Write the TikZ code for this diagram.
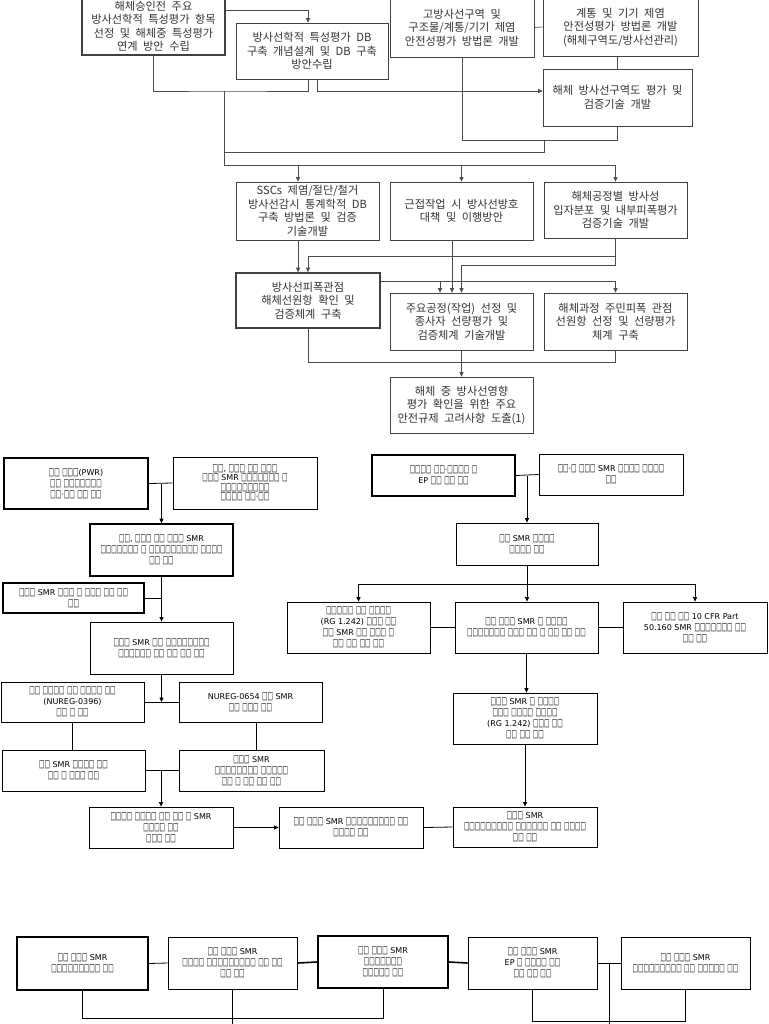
\documentclass[tikz,border=0pt]{standalone}
\usepackage{fontspec}
\usepackage{graphicx}
\newfontfamily\korfont[WordSpace=2.2]{Noto Sans CJK KR}
\newfontfamily\boxfont{DejaVu Sans}
\usetikzlibrary{arrows.meta}
\catcode`□=\active
\protected\def□{\scalebox{0.72}[1.3]{\char"25A1}}

\begin{document}
\begin{tikzpicture}[
			x=1pt, y=-1pt,
			ubox/.style={draw=black!75, line width=0.7pt, align=center, inner sep=0pt, text=black!80,
				font=\korfont\fontsize{11.2}{13.5}\selectfont},
			lbox/.style={draw=black, line width=0.8pt, align=center, inner sep=0pt,
				font=\boxfont\fontsize{8}{11}\selectfont},
			heavy/.style={line width=1.6pt},
			sz/.style 2 args={minimum width=#1pt, minimum height=#2pt},
			uline/.style={draw=black!70, line width=0.7pt},
			lline/.style={draw=black, line width=0.8pt},
			arr/.style={-{Triangle[length=4.5pt,width=4pt]}}
			]
			\fill[white] (0,0) rectangle (768,1024);
			\useasboundingbox (0,0) rectangle (768,1024);
			
			% Upper chart
			\node[ubox, heavy, sz={143}{57}] (a1) at (153.5,26.5) {해체승인전 주요\\방사선학적 특성평가 항목\\선정 및 해체중 특성평가\\연계 방안 수립};
			\node[ubox, sz={152}{56}] (a2) at (312,51) {방사선학적 특성평가 DB\\구축 개념설계 및 DB 구축\\방안수립};
			\node[ubox, sz={144}{59}] (b1) at (462,27.5) {고방사선구역 및\\구조물/계통/기기 제염\\안전성평가 방법론 개발};
			\node[ubox, sz={155}{58}] (b2) at (620.5,27) {계통 및 기기 제염\\안전성평가 방법론 개발\\(해체구역도/방사선관리)};
			\node[ubox, sz={149}{57}] (b3) at (617.5,97.5) {해체 방사선구역도 평가 및\\검증기술 개발};
			\node[ubox, sz={143}{58}] (c1) at (307.5,211) {SSCs 제염/절단/철거\\방사선감시 통계학적 DB\\구축 방법론 및 검증\\기술개발};
			\node[ubox, sz={143}{58}] (c2) at (461.5,211) {근접작업 시 방사선방호\\대책 및 이행방안};
			\node[ubox, sz={143}{56}] (c3) at (615.5,210) {해체공정별 방사성\\입자분포 및 내부피폭평가\\검증기술 개발};
			\node[ubox, heavy, sz={144}{55}] (d1) at (308,300.5) {방사선피폭관점\\해체선원항 확인 및\\검증체계 구축};
			\node[ubox, sz={143}{57}] (d2) at (461.5,321.5) {주요공정(작업) 선정 및\\종사자 선량평가 및\\검증체계 기술개발};
			\node[ubox, sz={143}{57}] (d3) at (615.5,321.5) {해체과정 주민피폭 관점\\선원항 선정 및 선량평가\\체계 구축};
			\node[ubox, sz={143}{56}] (d4) at (461.5,405) {해체 중 방사선영향\\평가 확인을 위한 주요\\안전규제 고려사항 도출(1)};
			
			% Upper connectors
			\coordinate (k1) at (308,10);
			\coordinate (k2) at (224,91);
			\coordinate (k3) at (224,152);
			\coordinate (k4) at (544,140);
			\coordinate (k5) at (224,165);
			\coordinate (k8) at ([yshift=19.5pt]d1.east);
			\coordinate (c1n) at ([xshift=-9.5pt]c1.north);
			\coordinate (c1s) at ([xshift=-9.5pt]c1.south);
			\coordinate (c2s) at ([xshift=-9.5pt]c2.south);
			\coordinate (d2n) at ([xshift=-21.5pt]d2.north);
			\draw[uline, arr] (a1.east |- k1) -- (k1) -- (k1 |- a2.north);
			\draw[uline] (a1.south) |- (k2) -| ([xshift=-4pt]a2.south);
			\draw[uline, arr] ([xshift=5pt]a2.south) |- (b3.west |- k2);
			\draw[uline] (b1.east) -- (b2.west);
			\draw[uline] (b3.north |- b2.south) -- (b3.north);
			\draw[uline] (b1.south) |- (k4 -| b3.south) -- (b3.south);
			\draw[uline] (k4) |- (k3);
			\draw[uline, arr] (k2) -- (k5) -| (c3.north);
			\draw[uline, arr] (k5 -| c2.north) -- (c2.north);
			\draw[uline, arr] (c1n |- k5) -- (c1n);
			\draw[uline, arr] (c1s) -- (c1s |- d1.north);
			\draw[uline, arr] (c3.south) -- ++(0,18) -| (d1.north);
			\draw[uline, arr] (c3.south) -- ++(0,27) -| (d2.north);
			\draw[uline, arr] (c2s) -- (c2s |- d2.north);
			\draw[uline, arr] (k8) -| (d3.north);
			\draw[uline, arr] (d2n |- k8) -- (d2n);
			\draw[uline] (d1.south) -- ++(0,34) -| (d3.south);
			\draw[uline, arr] (d2.south) -- (d4.north);
			
			% Lower left chart
			\node[lbox, heavy, sz={144}{51}] (e1) at (76,483.5) {□□ □□□(PWR)\\□□ □□□□□□□\\□□·□□ □□ □□};
			\node[lbox, sz={144}{52}, font=\boxfont\fontsize{8}{9.5}\selectfont] (e2) at (245,483) {□□, □□□ □□ □□□\\□□□ SMR □□□□□□□ □\\□□□□□□□□□\\□□□□ □□·□□};
			\node[lbox, heavy, sz={143}{52}] (e3) at (161.5,550) {□□, □□□ □□ □□□ SMR\\□□□□□□□ □ □□□□□□□□□ □□□□\\□□ □□};
			\node[lbox, heavy, sz={141}{30}] (e4) at (73.5,598) {□□□ SMR □□□ □ □□□ □□ □□\\□□};
			\node[lbox, sz={143}{52}] (e5) at (161.5,648) {□□□ SMR □□ □□□□□□□□\\□□□□□□ □□ □□ □□ □□};
			\node[lbox, sz={143}{40}] (e6) at (72.5,702) {□□ □□□□ □□ □□□□ □□\\(NUREG-0396)\\□□ □ □□};
			\node[lbox, sz={143}{40}] (e7) at (250.5,702) {NUREG-0654 □□ SMR\\□□ □□□ □□};
			\node[lbox, sz={143}{41}] (e8) at (73.5,770.5) {□□ SMR □□□□ □□\\□□ □ □□□ □□};
			\node[lbox, sz={145}{41}] (e9) at (251.5,770.5) {□□□ SMR\\□□□□□□□□ □□□□□\\□□ □ □□ □□ □□};
			\node[lbox, sz={144}{41}] (e10) at (161,827.5) {□□□□ □□□□ □□ □□ □ SMR\\□□□□ □□\\□□□ □□};
			\node[lbox, sz={144}{41}] (e11) at (351,827.5) {□□ □□□ SMR □□□□□□□□□ □□\\□□□□ □□};
			\node[lbox, sz={144}{40}] (e12) at (525,827) {□□□ SMR\\□□□□□□□□□ □□□□□□ □□ □□□□\\□□ □□};
			\node[lbox, sz={144}{51}] (e13) at (525,718.5) {□□□ SMR □ □□□□\\□□□ □□□□ □□□□\\(RG 1.242) □□□ □□\\□□ □□ □□};
			
			% Lower right chart
			\node[lbox, heavy, sz={143}{41}] (r1) at (443.5,475.5) {□□□□ □□·□□□□ □\\EP □□ □□ □□};
			\node[lbox, sz={144}{41}] (r2) at (611,474.5) {□□·□ □□□ SMR □□□□ □□□□\\□□};
			\node[lbox, sz={142}{42}] (r3) at (527,544) {□□ SMR □□□□\\□□□□ □□};
			\node[lbox, sz={143}{51}] (r4) at (358.5,627.5) {□□□□□ □□ □□□□\\(RG 1.242) □□□ □□\\□□ SMR □□ □□□ □\\□□ □□ □□ □□};
			\node[lbox, sz={143}{51}] (r5) at (526.5,627.5) {□□ □□□ SMR □ □□□□\\□□□□□□□ □□□ □□ □ □□ □□ □□};
			\node[lbox, sz={144}{51}] (r6) at (695,627.5) {□□ □□ □□ 10 CFR Part\\50.160 SMR □□□□□□□ □□\\□□ □□};
			
			% Lower connectors
			\draw[lline] (e1.east) -- (e2.west);
			\draw[lline, arr] (e1.east -| e3.north) -- (e3.north);
			\draw[lline, arr] (e3.south) -- (e5.north);
			\draw[lline] (e4.east) -- (e4.east -| e3.south);
			\draw[lline] (e6.east) -- (e7.west);
			\draw[lline, arr] (e5.south) -- (e5.south |- e6.east);
			\draw[lline] (e6.south) -- (e6.south |- e8.north);
			\coordinate (e7s) at ([xshift=5.5pt]e7.south);
			\draw[lline] (e7s) -- (e7s |- e9.north);
			\draw[lline] (e8.east) -- (e9.west);
			\draw[lline, arr] (e8.east -| e10.north) -- (e10.north);
			\draw[lline, arr] (e10.east) -- (e11.west);
			\draw[lline] (e11.east) -- (e12.west);
			\draw[lline, arr] (e13.south) -- (e12.north);
			\draw[lline] (r1.east) -- (r2.west);
			\draw[lline, arr] (r1.east -| r3.north) -- (r3.north);
			\draw[lline] (r3.south) -- ++(0,19) coordinate (n1);
			\draw[lline, arr] (n1) -| (r4.north);
			\draw[lline, arr] (n1) -| (r6.north);
			\draw[lline, arr] (n1) -- (n1 |- r5.north);
			\draw[lline] (r4.east) -- (r5.west);
			\draw[lline] (r5.east) -- (r6.west);
			\draw[lline, arr] (r5.south) -- (r5.south |- e13.north);
			
			% Bottom row
			\node[lbox, heavy, sz={131}{53}] (f1) at (82.5,963.5) {□□ □□□ SMR\\□□□□□□□□□ □□};
			\node[lbox, sz={129}{52}] (f2) at (232.5,963) {□□ □□□ SMR\\□□□□ □□□□□□□□□ □□ □□\\□□ □□};
			\node[lbox, heavy, sz={130}{52}] (f3) at (383,962) {□□ □□□ SMR\\□□□□□□□\\□□□□□ □□};
			\node[lbox, sz={129}{52}] (f4) at (532.5,963) {□□ □□□ SMR\\EP □ □□□□ □□\\□□ □□ □□};
			\node[lbox, sz={129}{52}] (f5) at (685.5,963) {□□ □□□ SMR\\□□□□□□□□□ □□ □□□□□ □□};
			\coordinate (p1) at (609,1026);
			\draw[lline] (f1.east) -- (f2.west);
			\draw[lline, heavy] (f2.east) -- (f3.west);
			\draw[lline, heavy] (f3.east) -- (f4.west);
			\draw[lline] (f4.east) -- (f5.west);
			\draw[lline] (p1 |- f4.east) -- (p1);
			\draw[lline] (f1.south) -- ++(0,28) -| (f3.south);
			\draw[lline] (f2.south) -- (f2.south |- p1);
			\draw[lline] (f4.south) -- ++(0,32) -| (f5.south);
		\end{tikzpicture}
\end{document}
